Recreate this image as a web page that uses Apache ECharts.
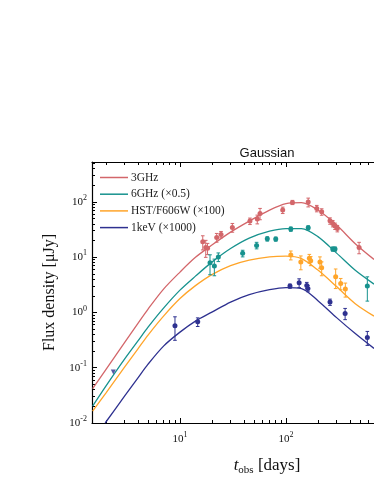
<!DOCTYPE html>
<html>
<head>
<meta charset="utf-8">
<script src="https://cdn.jsdelivr.net/npm/echarts@6/dist/echarts.min.js"></script>
<style>
  html, body { margin: 0; padding: 0; background: #fff; }
  #mainchart { width: 374px; height: 484px; }
</style>
</head>
<body>
<div id="mainchart"></div>
<script>
// model curves (days, microJy)
var curveT     = [1.5, 2, 3, 4, 5, 7, 10, 14, 20, 30, 45, 70, 100, 140, 200, 300, 450, 676];
var curve3GHz  = [0.0419, 0.0924, 0.284, 0.627, 1.148, 2.64, 5.36, 9.91, 16.5, 28.3, 44.8, 70.8, 92.8, 96.7, 71.1, 38.0, 17.5, 9.09];
var curve6GHz  = [0.0202, 0.0465, 0.143, 0.303, 0.542, 1.196, 2.53, 4.53, 8.12, 14.3, 22.1, 29.5, 32.8, 32.8, 23.5, 11.8, 5.77, 3.25];
var curveHST   = [0.0164, 0.0347, 0.1026, 0.217, 0.389, 0.857, 1.78, 3.05, 4.83, 7.02, 8.83, 10.1, 10.4, 9.39, 5.82, 2.93, 1.44, 0.857];
var curveXrayT = [1.97, 3, 4, 5, 7, 10, 14, 20, 30, 45, 70, 100, 140, 200, 300, 450, 676];
var curveXray  = [0.01, 0.0306, 0.0649, 0.116, 0.246, 0.440, 0.697, 1.01, 1.54, 2.10, 2.58, 2.81, 2.70, 1.63, 0.805, 0.414, 0.223];

// observations: time, flux, error
var radio3T = [16.4, 17.5, 18.2, 22.2, 24.4, 31.2, 45.7, 53.6, 56.9, 93.1, 115, 162, 195, 217, 260, 276, 290, 305, 489];
var radio3F = [18.9, 15.0, 14.4, 22.7, 25.7, 34.4, 44.8, 48.7, 61.7, 70.8, 97.6, 98.8, 76, 66, 45.3, 40.6, 36.4, 33, 15.0];
var radio3E = [5.4, 5.1, 3.3, 4.1, 3.4, 6.2, 6.0, 8.8, 14.3, 9.4, 8.5, 17.9, 10.1, 8.8, 6.0, 5.4, 4.8, 4.4, 3.5];

var radio6T = [19.2, 21.1, 23.0, 39, 52.8, 66.6, 80, 111, 162, 276, 290, 585];
var radio6F = [7.9, 6.9, 10.1, 11.7, 16.3, 21.4, 21.2, 32.1, 33.9, 14.0, 14.0, 3.0];
var radio6E = [3.1, 2.3, 1.8, 1.6, 2.2, 1.9, 1.8, 2.8, 2.9, 1.2, 1.2, 1.4];

var hstT = [111, 138, 166, 171, 209, 217, 294, 328, 363];
var hstF = [10.9, 8.2, 9.5, 8.6, 8.2, 6.4, 4.4, 3.34, 2.64];
var hstE = [2.0, 2.3, 1.7, 1.6, 1.9, 1.8, 1.7, 0.77, 0.75];

var xrayT = [8.97, 14.7, 109, 133, 157, 161, 260, 361, 585];
var xrayF = [0.573, 0.676, 2.99, 3.43, 3.08, 2.72, 1.54, 0.96, 0.353];
var xrayE = [0.26, 0.12, 0.26, 0.62, 0.41, 0.36, 0.2, 0.22, 0.1];
var xrayLimT = [2.35];
var xrayLimF = [0.084];

var names = ['3GHz', '6GHz (\u00d70.5)', 'HST/F606W (\u00d7100)', '1keV (\u00d71000)'];
var colors = ['#d3666a', '#17928e', '#ffa52a', '#2e3190'];

var xMin = 1.48, xMax = 676, yMin = 0.01, yMax = 525;
var serif = 'Liberation Serif';

function zip(a, b, c) {
    return a.map(function(v, i) { return c ? [v, b[i], c[i]] : [v, b[i]]; });
}

// minor tick positions (2..9 in every decade), in log10 units
function minors(lo, hi) {
    var out = [];
    for (var d = -3; d <= 3; d++) {
        for (var k = 2; k <= 9; k++) {
            var v = k * Math.pow(10, d);
            if (v > lo && v < hi) out.push(Math.log10(v));
        }
    }
    return out;
}

function powLabel(v) {
    var e = Math.log10(v);
    var r = Math.round(e);
    if (Math.abs(e - r) > 1e-6) return '';
    return '{a|10}{b|' + r + '}';
}

var labelRich = {
    a: { fontFamily: serif, fontSize: 11, color: '#111' },
    b: { fontFamily: serif, fontSize: 8, color: '#111', padding: [0, 0, 8, 0] }
};

function errorBars(params, api) {
    var x = api.value(0), y = api.value(1), e = api.value(2);
    var hi = api.coord([x, y + e]);
    var lo = api.coord([x, Math.max(y - e, 1e-4)]);
    var w = 1.8;
    var st = { stroke: api.visual('color'), lineWidth: 1 };
    return {
        type: 'group',
        children: [
            { type: 'line', shape: { x1: hi[0], y1: hi[1], x2: lo[0], y2: lo[1] }, style: st },
            { type: 'line', shape: { x1: hi[0] - w, y1: hi[1], x2: hi[0] + w, y2: hi[1] }, style: st },
            { type: 'line', shape: { x1: lo[0] - w, y1: lo[1], x2: lo[0] + w, y2: lo[1] }, style: st }
        ]
    };
}

var lineAxis = { show: true, onZero: false, lineStyle: { color: '#000', width: 1.2 } };
var noLine = { show: false, onZero: false };

var option = {
    animation: false,
    backgroundColor: '#fff',
    title: {
        text: 'Gaussian',
        left: 262,
        top: 142,
        textAlign: 'center',
        textStyle: { fontFamily: 'Liberation Sans', fontSize: 13, fontWeight: 'normal', color: '#111' }
    },
    legend: {
        data: names,
        orient: 'vertical',
        left: 100,
        top: 171.5,
        padding: 0,
        icon: 'rect',
        itemWidth: 28,
        itemHeight: 1.5,
        itemGap: 4.7,
        textStyle: { fontFamily: serif, fontSize: 11.5, color: '#222', padding: [0, 0, 0, -2] }
    },
    grid: { left: 92, top: 162, right: 0, bottom: 61, containLabel: false, outerBoundsMode: 'none' },
    xAxis: [
        {
            type: 'log', min: xMin, max: xMax, position: 'bottom',
            axisLine: lineAxis,
            axisTick: { inside: true, length: 5, lineStyle: { color: '#000' } },
            axisLabel: { formatter: powLabel, rich: labelRich, margin: 8, showMinLabel: false, showMaxLabel: false },
            splitLine: { show: false },
            name: '{t|t}{s|obs}{d| [days]}',
            nameLocation: 'middle',
            nameGap: 33,
            nameTextStyle: {
                padding: [0, 0, 0, 68],
                rich: {
                    t: { fontFamily: serif, fontStyle: 'italic', fontSize: 17, color: '#111' },
                    s: { fontFamily: serif, fontSize: 11, color: '#111', padding: [9, 0, 0, 0] },
                    d: { fontFamily: serif, fontSize: 17, color: '#111' }
                }
            }
        },
        {
            type: 'value', min: Math.log10(xMin), max: Math.log10(xMax), position: 'bottom',
            axisLine: noLine,
            axisTick: { inside: true, length: 3, customValues: minors(xMin, xMax), lineStyle: { color: '#000' } },
            axisLabel: { show: false },
            splitLine: { show: false }
        },
        {
            type: 'log', min: xMin, max: xMax, position: 'top',
            axisLine: lineAxis,
            axisTick: { inside: true, length: 5, lineStyle: { color: '#000' } },
            axisLabel: { show: false },
            splitLine: { show: false }
        },
        {
            type: 'value', min: Math.log10(xMin), max: Math.log10(xMax), position: 'top',
            axisLine: noLine,
            axisTick: { inside: true, length: 3, customValues: minors(xMin, xMax), lineStyle: { color: '#000' } },
            axisLabel: { show: false },
            splitLine: { show: false }
        }
    ],
    yAxis: [
        {
            type: 'log', min: yMin, max: yMax, position: 'left',
            axisLine: lineAxis,
            axisTick: { inside: true, length: 5, lineStyle: { color: '#000' } },
            axisLabel: { formatter: powLabel, rich: labelRich, margin: 5, showMaxLabel: false },
            splitLine: { show: false },
            name: 'Flux density [\u03bcJy]',
            nameLocation: 'middle',
            nameGap: 34,
            nameTextStyle: { fontFamily: serif, fontSize: 16, color: '#111' }
        },
        {
            type: 'value', min: Math.log10(yMin), max: Math.log10(yMax), position: 'left',
            axisLine: noLine,
            axisTick: { inside: true, length: 3, customValues: minors(yMin, yMax), lineStyle: { color: '#000' } },
            axisLabel: { show: false },
            splitLine: { show: false }
        }
    ],
    series: []
};

var curves = [
    [curveT, curve3GHz], [curveT, curve6GHz], [curveT, curveHST], [curveXrayT, curveXray]
];
var obs = [
    [radio3T, radio3F, radio3E], [radio6T, radio6F, radio6E], [hstT, hstF, hstE], [xrayT, xrayF, xrayE]
];

curves.forEach(function(c, i) {
    option.series.push({
        name: names[i], type: 'line', data: zip(c[0], c[1]),
        xAxisIndex: 0, yAxisIndex: 0,
        smooth: 0.3, showSymbol: false, symbol: 'none',
        lineStyle: { color: colors[i], width: 1.3 }, itemStyle: { color: colors[i] },
        z: 3
    });
});

obs.forEach(function(o, i) {
    option.series.push({
        name: 'err' + i, type: 'custom', renderItem: errorBars,
        data: zip(o[0], o[1], o[2]), xAxisIndex: 0, yAxisIndex: 0,
        itemStyle: { color: colors[i] }, clip: true, z: 4
    });
    option.series.push({
        name: 'pts' + i, type: 'scatter', data: zip(o[0], o[1]),
        xAxisIndex: 0, yAxisIndex: 0,
        symbolSize: 5, itemStyle: { color: colors[i], opacity: 1 }, z: 5
    });
});

option.series.push({
    name: 'lim', type: 'scatter', data: zip(xrayLimT, xrayLimF),
    xAxisIndex: 0, yAxisIndex: 0,
    symbol: 'triangle', symbolRotate: 180, symbolSize: 5,
    itemStyle: { color: colors[3] }, z: 5
});

var myChart = echarts.init(document.getElementById('mainchart'));
myChart.setOption(option);
</script>
</body>
</html>
